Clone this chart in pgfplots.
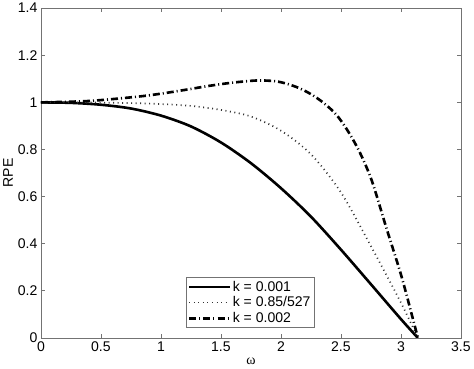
\documentclass[border=0pt]{standalone}
\usepackage{fontspec}
\setmainfont{Liberation Sans}
\newfontfamily\serifw{Liberation Serif}
\usepackage{pgfplots}
\pgfplotsset{compat=1.18}
\begin{document}
\begin{tikzpicture}
\begin{axis}[
  scale only axis,
  width=419pt, height=329pt,
  xmin=0, xmax=3.5, ymin=0, ymax=1.4,
  xtick={0,0.5,...,3.5},
  ytick={0,0.2,...,1.4},
  yticklabels={0,0.2,0.4,0.6,0.8,1,1.2,1.4},
  xticklabels={0,0.5,1,1.5,2,2.5,3,3.5},
  tick align=inside,
  major tick length=4pt,
  axis line style={black!55, line width=0.8pt},
  tick style={black!55, line width=0.8pt},
  every tick label/.append style={font=\fontsize{14}{16}\selectfont},
  xlabel={{\serifw ω}},
  ylabel={RPE},
  label style={font=\fontsize{14}{16}\selectfont},
  ylabel style={yshift=-2pt},
  legend cell align=left,
  legend style={at={(0.346,0.03)}, anchor=south west, draw=black!55, line width=0.8pt,
    font=\fontsize{14}{16}\selectfont, inner sep=1.5pt, row sep=0pt},
  legend image code/.code={\draw[#1] (0pt,0pt) -- (40pt,0pt);},
]
\addplot[black, line width=2.6pt, smooth] coordinates {
(0,1.0) (0.25,0.998) (0.5,0.99) (0.75,0.974) (1.0,0.944) (1.25,0.898) (1.5,0.83)
(1.75,0.742) (2.0,0.636) (2.25,0.515) (2.5,0.375) (2.75,0.228) (3.0,0.08) (3.1416,0.0)};
\addlegendentry{k = 0.001}
\addplot[black!80, line width=1.7pt, dash pattern=on 1pt off 3.5pt, smooth] coordinates {
(0,1.0) (0.25,1.0) (0.5,0.999) (0.75,0.997) (1.0,0.993) (1.25,0.985) (1.5,0.968)
(1.75,0.94) (2.0,0.88) (2.25,0.78) (2.5,0.618) (2.75,0.39) (3.0,0.15) (3.1416,0.0)};
\addlegendentry{k = 0.85/527}
\addplot[black, line width=2.6pt, dash pattern=on 7pt off 3pt on 1pt off 3pt, smooth] coordinates {
(0,1.0) (0.4,1.006) (0.8,1.024) (1.0,1.037) (1.2,1.053) (1.4,1.07) (1.6,1.084)
(1.8,1.093) (1.95,1.09) (2.05,1.079) (2.15,1.061) (2.25,1.035) (2.35,1.0) (2.46,0.949)
(2.56,0.877) (2.66,0.785) (2.76,0.664) (2.88,0.465) (3.0,0.27) (3.09,0.1) (3.1416,0.0)};
\addlegendentry{k = 0.002}
\end{axis}
\end{tikzpicture}
\end{document}
